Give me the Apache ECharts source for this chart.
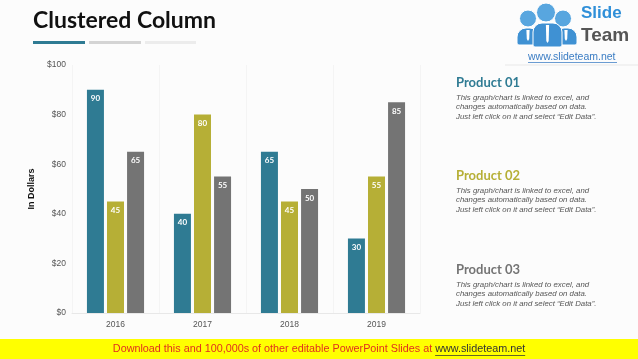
<!DOCTYPE html>
<html><head><meta charset="utf-8">
<script src="https://cdn.jsdelivr.net/npm/echarts@6/dist/echarts.min.js"></script>
<style>html,body{margin:0;padding:0;background:#fcfcfc}#c{width:638px;height:359px}</style>
</head><body><div id="c"></div>
<script>
const categories = ['2016', '2017', '2018', '2019'];
const product01 = [90, 40, 65, 30];
const product02 = [45, 80, 45, 55];
const product03 = [65, 55, 50, 85];
const seriesNames = ['Product 01', 'Product 02', 'Product 03'];
const colors = ['#2F7B93', '#B6AF36', '#747474'];
const descLines = ['This graph/chart is linked to excel, and', 'changes automatically based on data.', 'Just left click on it and select \u201cEdit Data\u201d.'];
const footerText = 'Download this and 100,000s of other editable PowerPoint Slides at ';
const footerUrl = 'www.slideteam.net';

function measure(t, font) {
  const c = document.createElement('canvas').getContext('2d');
  c.font = font; return c.measureText(t).width;
}

const chart = echarts.init(document.getElementById('c'));
const lbl = {show: true, position: 'insideTop', distance: 5, color: '#fff', fontSize: 8, fontWeight: 'bold', fontFamily: 'Lato'};
const graphics = [];
graphics.push({type: 'text', left: 33, top: 9, style: {text: 'Clustered Column', fontSize: 23, fontWeight: 'bold', fontFamily: 'Lato', fill: '#111'}});
graphics.push({type: 'rect', shape: {x: 33, y: 41, width: 52, height: 3}, style: {fill: '#2F7B93'}});
graphics.push({type: 'rect', shape: {x: 89, y: 41, width: 52, height: 3}, style: {fill: '#d4d4d4'}});
graphics.push({type: 'rect', shape: {x: 145, y: 41, width: 51, height: 3}, style: {fill: '#ececec'}});
// logo people
const ppl = [
  {cx: 528, cy: 18.5, r: 8.5, bx: 517, by: 28, bw: 22, bh: 17},
  {cx: 563, cy: 18.5, r: 8.5, bx: 555, by: 28, bw: 22, bh: 17},
  {cx: 546, cy: 12.5, r: 9.5, bx: 533, by: 23, bw: 29, bh: 24}
];
ppl.forEach(p => {
  graphics.push({type: 'circle', shape: {cx: p.cx, cy: p.cy, r: p.r}, style: {fill: '#58A6DF', stroke: '#ffffff', lineWidth: 1}});
  graphics.push({type: 'rect', shape: {x: p.bx, y: p.by, width: p.bw, height: p.bh, r: [9, 9, 2, 2]}, style: {fill: '#3F91D3', stroke: '#ffffff', lineWidth: 1}});
  const tx = p.bx + p.bw / 2;
  graphics.push({type: 'polygon', shape: {points: [[tx - 1.6, p.by + 2], [tx + 1.6, p.by + 2], [tx + 1.2, p.by + p.bh - 6], [tx, p.by + p.bh - 4], [tx - 1.2, p.by + p.bh - 6]]}, style: {fill: '#ffffff'}});
});
graphics.push({type: 'text', left: 581, top: 5, style: {text: 'Slide', fontSize: 17, fontWeight: 'bold', fontFamily: 'Liberation Sans', fill: '#2F8FD8'}});
graphics.push({type: 'text', left: 581, top: 26, style: {text: 'Team', fontSize: 19, fontWeight: 'bold', fontFamily: 'Liberation Sans', fill: '#555'}});
graphics.push({type: 'text', left: 528, top: 52, style: {text: 'www.slideteam.net', fontSize: 10.5, fontFamily: 'Liberation Sans', fill: '#3B7DC4'}});
graphics.push({type: 'rect', shape: {x: 528, y: 62, width: 89, height: 0.8}, style: {fill: '#3B7DC4'}});
graphics.push({type: 'rect', shape: {x: 505, y: 64.5, width: 133, height: 1}, style: {fill: '#e8e8e8'}});
// right panel
const tops = [76, 169, 263];
seriesNames.forEach((n, i) => {
  graphics.push({type: 'text', left: 456, top: tops[i], style: {text: n, fontSize: 13, fontWeight: 'bold', fontFamily: 'Lato', fill: colors[i]}});
  descLines.forEach((l, j) => {
    graphics.push({type: 'text', left: 456, top: tops[i] + 18 + j * 9.3, style: {text: l, fontSize: 7.8, fontStyle: 'italic', fontFamily: 'Liberation Sans', fill: '#555'}});
  });
});
// footer
const ffs = 10.8;
const fFont = ffs + 'px "Liberation Sans"';
const w1 = measure(footerText, fFont), w2 = measure(footerUrl, fFont);
const fx = (638 - w1 - w2) / 2;
graphics.push({type: 'rect', shape: {x: 0, y: 339, width: 638, height: 20}, style: {fill: '#FFFF00'}});
graphics.push({type: 'text', left: fx, top: 343.5, style: {text: footerText, fontSize: ffs, fontFamily: 'Liberation Sans', fill: '#E0301E'}});
graphics.push({type: 'text', left: fx + w1, top: 343.5, style: {text: footerUrl, fontSize: ffs, fontFamily: 'Liberation Sans', fill: '#333'}});
graphics.push({type: 'rect', shape: {x: fx + w1, y: 355, width: w2, height: 0.8}, style: {fill: '#333'}});

chart.setOption({
  animation: false,
  backgroundColor: '#fcfcfc',
  grid: {left: 72, right: 218, top: 65, bottom: 46},
  xAxis: {
    type: 'category', data: categories,
    axisLine: {lineStyle: {color: '#e8e8e8'}}, axisTick: {show: false},
    axisLabel: {color: '#555', fontSize: 8.5, fontFamily: 'Liberation Sans', margin: 7},
    splitLine: {show: true, lineStyle: {color: '#f4f4f4'}}
  },
  yAxis: {
    type: 'value', min: 0, max: 100, interval: 20,
    name: 'In Dollars', nameLocation: 'middle', nameGap: 36, nameRotate: 90,
    nameTextStyle: {color: '#111', fontSize: 9, fontWeight: 'bold', fontFamily: 'Liberation Sans'},
    axisLabel: {formatter: '${value}', color: '#555', fontSize: 8.5, fontFamily: 'Liberation Sans', margin: 6},
    axisLine: {show: false}, axisTick: {show: false},
    splitLine: {show: false}
  },
  series: [
    {name: seriesNames[0], type: 'bar', data: product01, barWidth: 17, barGap: '18%', itemStyle: {color: colors[0]}, label: lbl},
    {name: seriesNames[1], type: 'bar', data: product02, barWidth: 17, barGap: '18%', itemStyle: {color: colors[1]}, label: lbl},
    {name: seriesNames[2], type: 'bar', data: product03, barWidth: 17, barGap: '18%', itemStyle: {color: colors[2]}, label: lbl}
  ],
  graphic: graphics
});
</script></body></html>
